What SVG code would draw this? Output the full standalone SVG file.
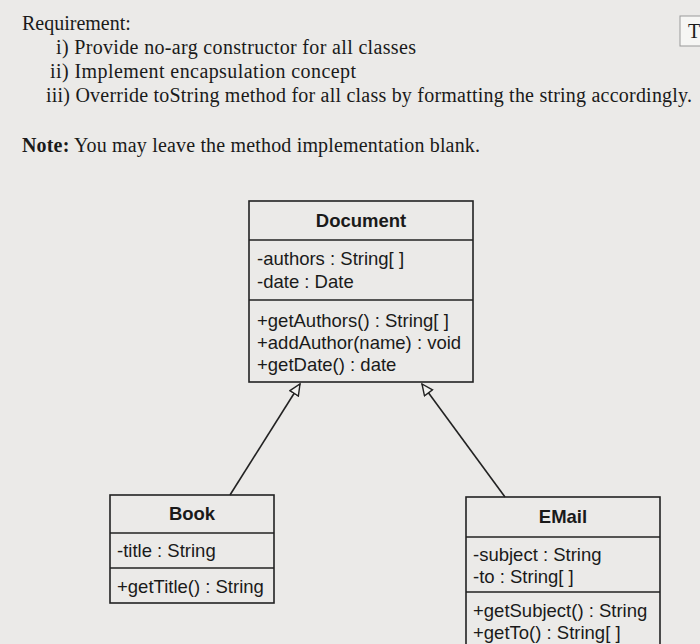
<svg xmlns="http://www.w3.org/2000/svg" width="700" height="644" viewBox="0 0 700 644">
<style>
.s{font-family:"Liberation Serif",serif;font-size:20px;fill:#1a1a1a}
.u{font-family:"Liberation Sans",Arial,sans-serif;font-size:18.5px;fill:#1a1a1a}
.b{fill:none;stroke:#222;stroke-width:1.6}
</style>
<defs>
<marker id="tri" markerWidth="14" markerHeight="14" refX="12" refY="6" orient="auto" markerUnits="userSpaceOnUse">
<path d="M1,1 L12,6 L1,11 Z" fill="#f2f2f0" stroke="#222" stroke-width="1.4"/>
</marker>
</defs>
<rect width="700" height="644" fill="#ebeae8"/>
<rect x="680" y="16" width="30" height="30" fill="#f6f6f4" stroke="#999"/>
<text x="688" y="38" class="s" font-size="16">T</text>
<g id="text">
<text x="22" y="30" class="s">Requirement:</text>
<text x="56" y="54" class="s" textLength="360">i)  Provide no-arg constructor for all classes</text>
<text x="50" y="78" class="s" textLength="306">ii)  Implement encapsulation concept</text>
<text x="46" y="102" class="s" textLength="646">iii)  Override toString method for all class by formatting the string accordingly.</text>
<text x="22" y="152" class="s" textLength="458"><tspan font-weight="bold">Note:</tspan> You may leave the method implementation blank.</text>
</g>
<g id="connectors">
<line x1="230" y1="495" x2="300" y2="384" stroke="#222" stroke-width="1.6" marker-end="url(#tri)"/>
<line x1="505" y1="497" x2="422" y2="384" stroke="#222" stroke-width="1.6" marker-end="url(#tri)"/>
</g>
<g id="Document">
<rect x="249" y="201" width="224" height="181" class="b"/>
<line x1="249" y1="240" x2="473" y2="240" class="b"/>
<line x1="249" y1="300" x2="473" y2="300" class="b"/>
<text x="361" y="227" class="u" font-weight="bold" text-anchor="middle">Document</text>
<text x="257" y="265" class="u">-authors : String[ ]</text>
<text x="257" y="288" class="u">-date : Date</text>
<text x="257" y="327" class="u">+getAuthors() : String[ ]</text>
<text x="257" y="349" class="u">+addAuthor(name) : void</text>
<text x="257" y="371" class="u">+getDate() : date</text>
</g>
<g id="Book">
<rect x="110" y="495" width="164" height="108" class="b"/>
<line x1="110" y1="533" x2="274" y2="533" class="b"/>
<line x1="110" y1="568" x2="274" y2="568" class="b"/>
<text x="192" y="520" class="u" font-weight="bold" text-anchor="middle">Book</text>
<text x="117" y="557" class="u">-title : String</text>
<text x="117" y="593" class="u">+getTitle() : String</text>
</g>
<g id="EMail">
<rect x="466" y="497" width="194" height="160" class="b"/>
<line x1="466" y1="537" x2="660" y2="537" class="b"/>
<line x1="466" y1="592" x2="660" y2="592" class="b"/>
<text x="563" y="523" class="u" font-weight="bold" text-anchor="middle">EMail</text>
<text x="473" y="561" class="u">-subject : String</text>
<text x="473" y="583" class="u">-to : String[ ]</text>
<text x="473" y="617" class="u">+getSubject() : String</text>
<text x="473" y="639" class="u">+getTo() : String[ ]</text>
</g>
</svg>
